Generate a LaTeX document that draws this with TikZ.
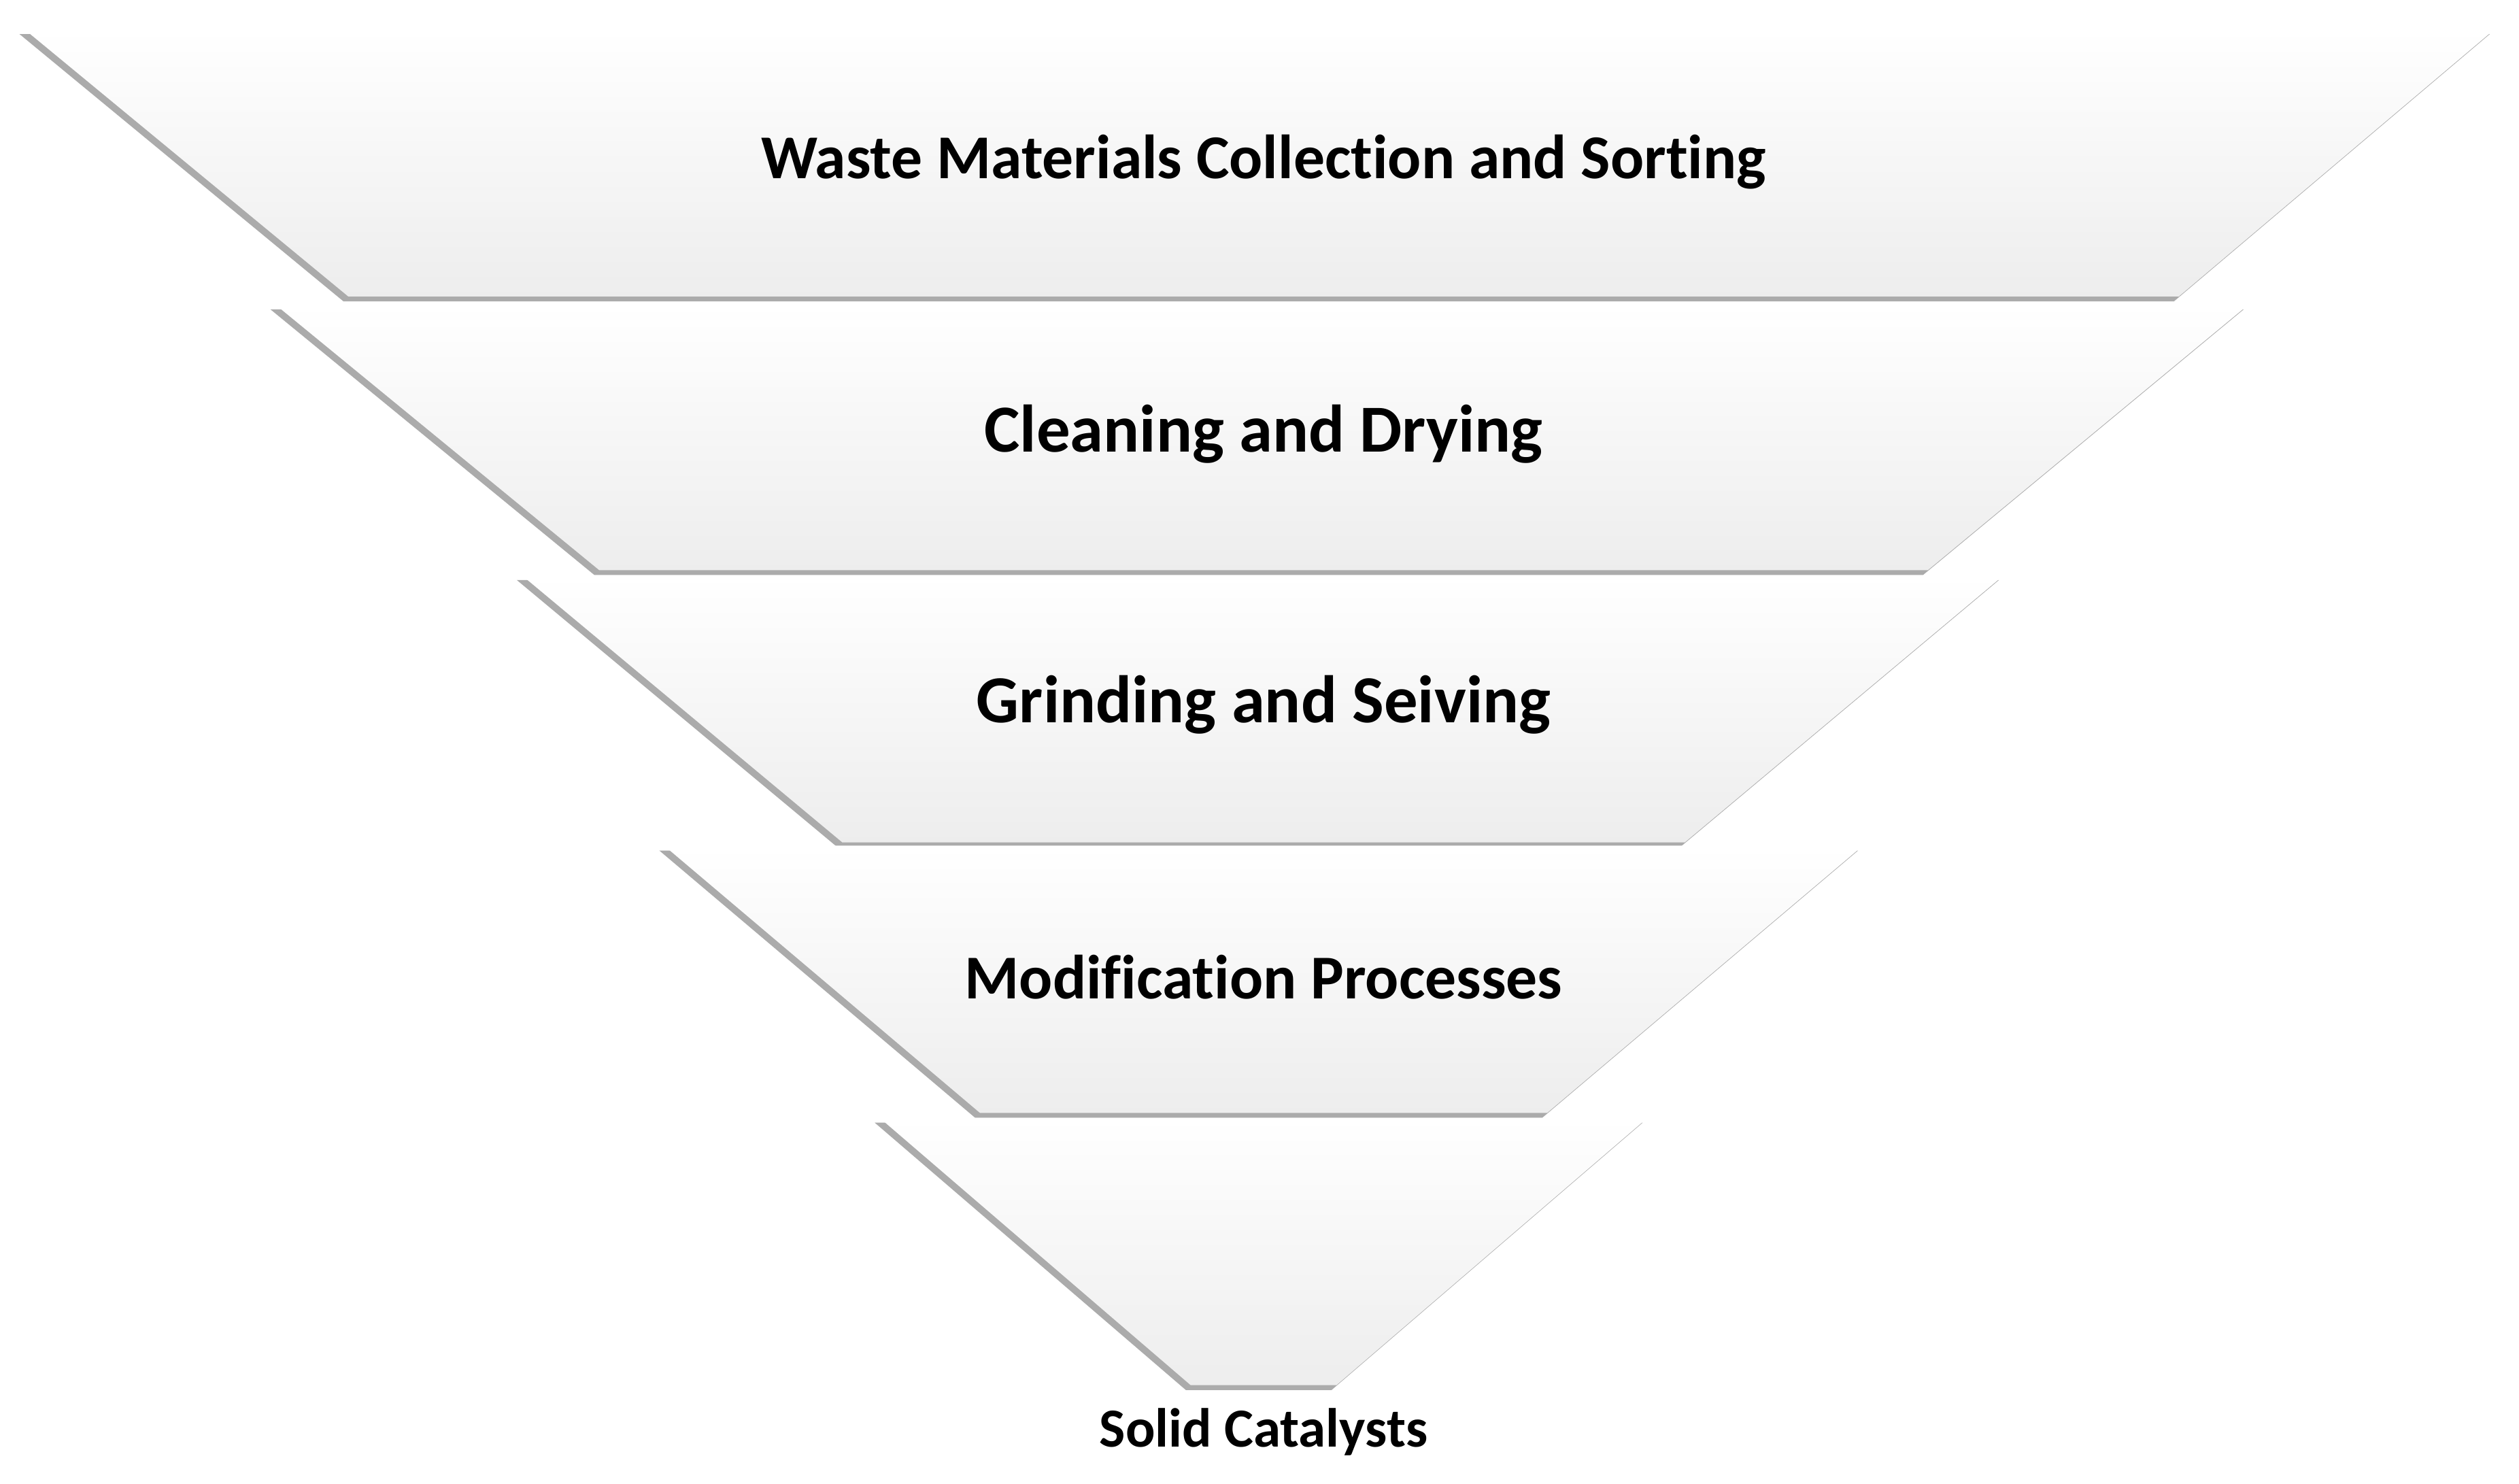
\documentclass[tikz,border=0pt]{standalone}
\usepackage{fontspec}
\setmainfont[Ligatures=NoCommon]{Carlito}
\usetikzlibrary{shadows}
\begin{document}
\begin{tikzpicture}[x=1pt,y=-1pt,
  seg/.style={top color=white,bottom color=gray!14,draw=none,
    drop shadow={shadow xshift=-3pt,shadow yshift=-3pt,opacity=0.55,fill=black!60}},
  lbl/.style={text=black,inner sep=0pt}]
\useasboundingbox (0,0) rectangle (1555,916);
\fill[white] (0,0) rectangle (1555,916);
\path[seg] (15,18) -- (1540,18) -- (1345,183) -- (215,183) -- cycle;
\path[seg] (170,188) -- (1388,188) -- (1190,352) -- (370,352) -- cycle;
\path[seg] (322,355) -- (1237,355) -- (1040,520) -- (520,520) -- cycle;
\path[seg] (410,522) -- (1150,522) -- (955,687) -- (605,687) -- cycle;
\path[seg] (543,690) -- (1017,690) -- (825,855) -- (735,855) -- cycle;
\node[lbl,font=\fontsize{38.5}{42}\selectfont\bfseries] (t1) at (780,100) {Waste Materials Collection and Sorting};
\node[lbl,font=\fontsize{41.5}{45}\selectfont\bfseries] (t2) at (780,268) {Cleaning and Drying};
\node[lbl,font=\fontsize{41.5}{45}\selectfont\bfseries] (t3) at (780,435) {Grinding and Seiving};
\node[lbl,font=\fontsize{38.5}{42}\selectfont\bfseries] (t4) at (780,603) {Modification Processes};
\node[lbl,font=\fontsize{34}{38}\selectfont\bfseries] (t5) at (780,884) {Solid Catalysts};
\end{tikzpicture}
\end{document}
